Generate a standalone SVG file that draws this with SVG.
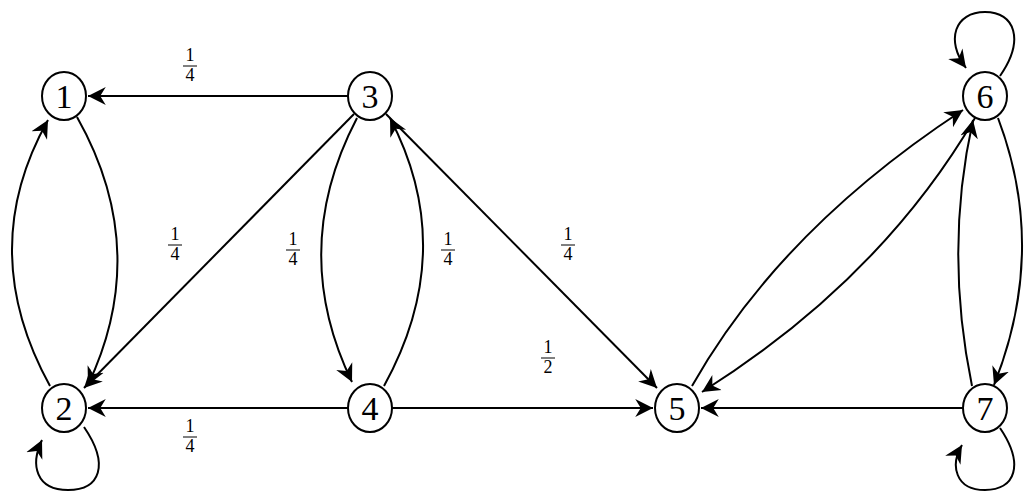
<svg xmlns="http://www.w3.org/2000/svg" width="1024" height="504" viewBox="0 0 1024 504">
<style>
.n ellipse{fill:#fff;stroke:#000;stroke-width:2}
.n text{font-family:"Liberation Serif",serif;font-size:34px;text-anchor:middle;dominant-baseline:central}
.e path{fill:none;stroke:#000;stroke-width:2;marker-end:url(#a)}
.f text{font-family:"Liberation Serif",serif;font-size:18px;text-anchor:middle}
.f line{stroke:#000;stroke-width:1}
</style>
<defs>
<marker id="a" markerUnits="userSpaceOnUse" markerWidth="20" markerHeight="20" viewBox="-16 -9 18 18" refX="0" refY="0" orient="auto">
<path d="M0,0 L-16,-8 L-11,0 L-16,8 Z" fill="#000"/>
</marker>
</defs>
<rect width="1024" height="504" fill="#fff"/>
<g class="e" id="edges">
<path d="M348,96 L88,96"/>
<path d="M77,117 Q152,250 88,385"/>
<path d="M50,386 Q-25,250 48,120"/>
<path d="M84,427 C110,465 100,490 68,490 C36,490 30,465 42,440"/>
<path d="M354,114 L84,388"/>
<path d="M357,118 Q288,250 352,382"/>
<path d="M384,386 Q459,250 390,118"/>
<path d="M386,114 L657,388"/>
<path d="M348,408 L88,408"/>
<path d="M392,408 L653,408"/>
<path d="M692,386 Q780,230 963,110"/>
<path d="M975,118 Q880,280 702,392"/>
<path d="M998,118 Q1048,250 994,385"/>
<path d="M972,386 Q944,250 973,120"/>
<path d="M963,408 L701,408"/>
<path d="M1000,76 C1025,40 1015,12 985,12 C955,12 945,40 966,68"/>
<path d="M1000,428 C1025,465 1015,490 985,490 C955,490 950,465 962,445"/>
</g>
<g class="f" id="labels">
<g transform="translate(190,66)"><text y="-5">1</text><line x1="-7" x2="7" y1="0" y2="0"/><text y="15">4</text></g>
<g transform="translate(175,245)"><text y="-5">1</text><line x1="-7" x2="7" y1="0" y2="0"/><text y="15">4</text></g>
<g transform="translate(293,250)"><text y="-5">1</text><line x1="-7" x2="7" y1="0" y2="0"/><text y="15">4</text></g>
<g transform="translate(448,250)"><text y="-5">1</text><line x1="-7" x2="7" y1="0" y2="0"/><text y="15">4</text></g>
<g transform="translate(568,245)"><text y="-5">1</text><line x1="-7" x2="7" y1="0" y2="0"/><text y="15">4</text></g>
<g transform="translate(548,358)"><text y="-5">1</text><line x1="-7" x2="7" y1="0" y2="0"/><text y="15">2</text></g>
<g transform="translate(190,437)"><text y="-5">1</text><line x1="-7" x2="7" y1="0" y2="0"/><text y="15">4</text></g>
</g>
<g class="n" id="n1"><ellipse cx="64" cy="96" rx="22" ry="24"/><text x="64" y="96">1</text></g>
<g class="n" id="n2"><ellipse cx="64" cy="408" rx="22" ry="24"/><text x="64" y="408">2</text></g>
<g class="n" id="n3"><ellipse cx="370" cy="96" rx="22" ry="24"/><text x="370" y="96">3</text></g>
<g class="n" id="n4"><ellipse cx="370" cy="408" rx="22" ry="24"/><text x="370" y="408">4</text></g>
<g class="n" id="n5"><ellipse cx="677" cy="408" rx="22" ry="24"/><text x="677" y="408">5</text></g>
<g class="n" id="n6"><ellipse cx="985" cy="96" rx="22" ry="24"/><text x="985" y="96">6</text></g>
<g class="n" id="n7"><ellipse cx="985" cy="408" rx="22" ry="24"/><text x="985" y="408">7</text></g>
</svg>
